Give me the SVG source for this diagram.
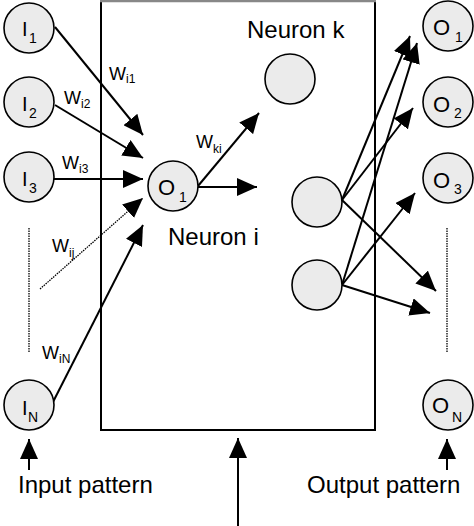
<svg xmlns="http://www.w3.org/2000/svg" width="474" height="526" viewBox="0 0 474 526">
<style>
  .node { fill: #ebebeb; stroke: #000; stroke-width: 1.6; }
  .lbl { font-family: "Liberation Sans", Arial, sans-serif; fill: #000; }
  .big { font-size: 24px; }
  .io { font-size: 20px; }
  .oo { font-size: 22px; }
  .sub { font-size: 14px; }
  .w { font-size: 18px; }
  .ws { font-size: 12px; }
  .arr { stroke: #000; stroke-width: 2; fill: none; marker-end: url(#ah); }
  .dot { stroke: #000; stroke-width: 1.3; fill: none; stroke-dasharray: 1.5 1; }
</style>
<defs>
  <marker id="ah" viewBox="0 0 20 18" refX="20" refY="9" markerWidth="20" markerHeight="18" markerUnits="userSpaceOnUse" orient="auto">
    <path d="M0,0 L20,9 L0,18 Z" fill="#000"/>
  </marker>
</defs>
<rect width="474" height="526" fill="#fff"/>

<g id="network-box">
  <rect x="101" y="1" width="274" height="429" fill="none" stroke="#000" stroke-width="2"/>
  <line x1="100" y1="1" x2="376" y2="1" stroke="#888" stroke-width="2.5"/>
</g>

<g id="connectors">
  <line class="arr" x1="55" y1="27" x2="143" y2="135"/>
  <line class="arr" x1="55" y1="105" x2="143" y2="158"/>
  <line class="arr" x1="54" y1="179" x2="143" y2="179"/>
  <line class="dot" x1="40" y1="289" x2="143" y2="198" marker-end="url(#ah)"/>
  <line class="arr" x1="53" y1="402" x2="143" y2="225"/>
  <line class="arr" x1="198" y1="186" x2="259" y2="113"/>
  <line class="arr" x1="198" y1="187" x2="257" y2="187"/>
  <line class="arr" x1="342" y1="200" x2="410" y2="36"/>
  <line class="arr" x1="342" y1="285" x2="417" y2="43"/>
  <line class="arr" x1="342" y1="200" x2="413" y2="108"/>
  <line class="arr" x1="342" y1="200" x2="436" y2="291"/>
  <line class="arr" x1="342" y1="285" x2="415" y2="193"/>
  <line class="arr" x1="342" y1="285" x2="430" y2="313"/>
  <line class="arr" x1="29" y1="470" x2="29" y2="439"/>
  <line class="arr" x1="447" y1="470" x2="447" y2="439"/>
  <line class="arr" x1="238" y1="526" x2="238" y2="438"/>
  <line class="dot" x1="29" y1="228" x2="29" y2="353" stroke-width="1"/>
  <line class="dot" x1="447" y1="228" x2="447" y2="353" stroke-width="1"/>
  <text class="lbl w" x="109" y="80">W<tspan class="ws" dy="3">i1</tspan></text>
  <text class="lbl w" x="64" y="104">W<tspan class="ws" dy="4">i2</tspan></text>
  <text class="lbl w" x="62" y="169">W<tspan class="ws" dy="4">i3</tspan></text>
  <text class="lbl w" x="52" y="252">W<tspan class="ws" dy="5">ij</tspan></text>
  <text class="lbl w" x="42" y="359">W<tspan class="ws" dy="4">iN</tspan></text>
  <text class="lbl w" x="196" y="148">W<tspan class="ws" dy="5">ki</tspan></text>
</g>

<g id="input-1"><circle class="node" cx="29" cy="28" r="25"/><text class="lbl io" x="22" y="36">I</text><text class="lbl sub" x="29" y="43">1</text></g>
<g id="input-2"><circle class="node" cx="29" cy="102" r="25"/><text class="lbl io" x="22" y="111">I</text><text class="lbl sub" x="29" y="118">2</text></g>
<g id="input-3"><circle class="node" cx="29" cy="177" r="25"/><text class="lbl io" x="22" y="186">I</text><text class="lbl sub" x="29" y="193">3</text></g>
<g id="input-N"><circle class="node" cx="29" cy="405" r="25"/><text class="lbl io" x="22" y="415">I</text><text class="lbl sub" x="28" y="422">N</text></g>

<g id="output-1"><circle class="node" cx="448" cy="26" r="25"/><text class="lbl oo" x="433" y="35">O</text><text class="lbl sub" x="455" y="42">1</text></g>
<g id="output-2"><circle class="node" cx="448" cy="102" r="25"/><text class="lbl oo" x="433" y="112">O</text><text class="lbl sub" x="454" y="118">2</text></g>
<g id="output-3"><circle class="node" cx="448" cy="178" r="25"/><text class="lbl oo" x="433" y="188">O</text><text class="lbl sub" x="454" y="194">3</text></g>
<g id="output-N"><circle class="node" cx="448" cy="405" r="25"/><text class="lbl oo" x="432" y="413">O</text><text class="lbl sub" x="452" y="422">N</text></g>

<g id="neuron-i"><circle class="node" cx="173" cy="186" r="25"/><text class="lbl oo" x="158" y="195">O</text><text class="lbl sub" x="179" y="202">1</text><text class="lbl big" x="168" y="245">Neuron i</text></g>
<g id="neuron-k"><circle class="node" cx="290" cy="79" r="25"/><text class="lbl big" x="247" y="38">Neuron k</text></g>
<g id="neuron-a"><circle class="node" cx="317" cy="202" r="25"/></g>
<g id="neuron-b"><circle class="node" cx="317" cy="285" r="25"/></g>

<g id="labels">
  <text class="lbl big" x="18" y="493">Input pattern</text>
  <text class="lbl big" x="307" y="493">Output pattern</text>
</g>
</svg>
